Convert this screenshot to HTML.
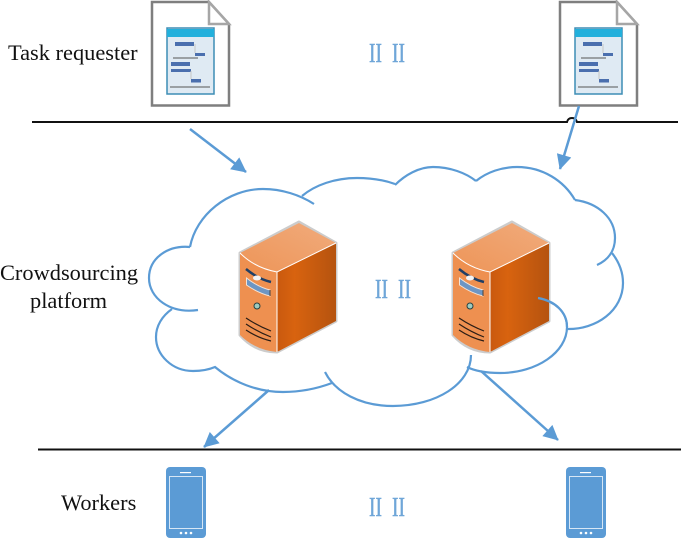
<!DOCTYPE html>
<html><head><meta charset="utf-8"><style>
html,body{margin:0;padding:0;background:#fff}
svg{display:block}
text{font-family:"Liberation Serif",serif}
.l{font-size:22.400px;fill:#111}
.b{font-size:27px;fill:#6fa6d8;stroke:#6fa6d8;stroke-width:.4px}
</style></head><body>
<svg width="685" height="547" viewBox="0 0 685 547" xmlns="http://www.w3.org/2000/svg">
<defs>
<linearGradient id="side" x1="0" x2="1" y1="0" y2="0"><stop offset="0" stop-color="#c9590f"/><stop offset=".3" stop-color="#d8630f"/><stop offset="1" stop-color="#b5530f"/></linearGradient>
<linearGradient id="top" x1="0" x2="1" y1="1" y2="0"><stop offset="0" stop-color="#ee9558"/><stop offset="1" stop-color="#f0ab7c"/></linearGradient>
<marker id="a" viewBox="0 0 10 10" refX="9.500" refY="5" markerWidth="6.400" markerHeight="6" orient="auto"><path d="M0 0L10 5L0 10Z" fill="#5b9bd5"/></marker>
<g id="doc">
<path d="M152 2H209L229 24V105.500H152Z" fill="#fff" stroke="#7f7f7f" stroke-width="2.500"/>
<path d="M209 2V24H229Z" fill="#fff" stroke="#a6a6a6" stroke-width="2.500"/>
<rect x="167" y="28" width="47" height="66" fill="#dfeaf3" stroke="#3d8db5" stroke-width="1.500"/>
<rect x="167" y="29" width="47" height="8" fill="#22b0dc"/>
<g fill="#4a6fae"><rect x="175" y="42" width="19" height="4"/><rect x="195" y="53" width="10" height="3"/><rect x="171" y="62" width="19" height="4"/><rect x="171" y="69" width="20" height="3"/><rect x="191" y="79" width="10" height="3.500"/></g>
<path d="M173 58H198M170 87H210" stroke="#555" stroke-width="1" fill="none"/>
<path d="M195 44V53M191 71V79" stroke="#c5c5c5" stroke-width="1" fill="none"/>
</g>
<g id="srv">
<path d="M299 222L336 243V321L277 352Q255 352 240 335V253Z" fill="#ccc" stroke="#ccc" stroke-width="3" stroke-linejoin="round"/>
<path d="M299 223L336 243L277 272Q255 268 240 253Z" fill="url(#top)"/>
<path d="M277 272L336 243V321L277 352Z" fill="url(#side)"/>
<path d="M240 253Q255 268 277 272V352Q255 350 240 335Z" fill="#ee9050"/>
<path d="M240 253Q255 268 277 272L336 243M277 272V352" fill="none" stroke="#fff" stroke-width="1"/>
<path d="M246 269Q258 279 271 282" fill="none" stroke="#1f3f66" stroke-width="2.500"/>
<ellipse cx="257" cy="278" rx="4" ry="2.500" fill="#f3f3f3"/>
<path d="M246.500 278Q258 287 270 290V296Q258 293 246.500 285Z" fill="#6d96c4" stroke="#f4e3d6" stroke-width="1"/>
<path d="M270 290V296" stroke="#444" stroke-width="1"/>
<circle cx="257" cy="306" r="3" fill="#9dcbc0" stroke="#27413f" stroke-width="1"/>
<path d="M246 318Q258 326 271 331M246 324Q258 332 271 337M246 330Q258 338 271 341" fill="none" stroke="#2b1d15" stroke-width="1.200"/>
</g>
<g id="ph">
<rect x="166" y="467" width="40" height="71" rx="4" fill="#5b9bd5"/>
<rect x="169.500" y="476.500" width="33" height="52" fill="none" stroke="#d6e6f5" stroke-width="1"/>
<rect x="180" y="472" width="11" height="1.200" fill="#fff"/>
<circle cx="181" cy="533" r="1.300" fill="#fff"/><circle cx="186" cy="533" r="1.300" fill="#fff"/><circle cx="191" cy="533" r="1.300" fill="#fff"/>
</g>
</defs>

<use href="#doc"/>
<use href="#doc" x="408"/>

<path d="M32 122H567Q568 118 572 118Q576 118 577 122H678" fill="none" stroke="#111" stroke-width="2"/>
<path d="M38 449.500H681" fill="none" stroke="#111" stroke-width="2"/>

<g fill="none" stroke="#5b9bd5" stroke-width="2.200">
<path d="M190 247C196 215 228 189 263 189C282 189 300 195 314 204"/>
<path d="M302 196C315 185 335 178 357 178C371 178 384 180 395 184"/>
<path d="M395 185C405 175 419 167 433 167C450 167 466 173 476 181"/>
<path d="M476 181C487 172 502 167 517 167C543 167 564 181 575 200"/>
<path d="M575 200C598 203 615 218 615 238C615 251 608 260 597 265"/>
<path d="M612 253C619 262 623 272 623 283C623 310 597 330 566 329"/>
<path d="M538 298C555 301 567 312 567 327C567 352 537 373 500 373C487 373 475 371 467 367"/>
<path d="M471 355C471 384 436 406 393 406C360 406 335 392 325 372"/>
<path d="M332 383C316 389 300 392 283 392C257 392 233 382 215 367C208 370 200 371 193 371C172 371 156 355 156 337C156 326 162 316 172 309"/>
<path d="M198 310C170 314 149 298 149 278C149 258 168 245 190 247"/>
</g>
<use href="#srv"/>
<use href="#srv" x="213"/>
<path d="M538 298C555 301 567 312 567 327" fill="none" stroke="#5b9bd5" stroke-width="2.200"/>

<g stroke="#5b9bd5" stroke-width="2.500" fill="none" marker-end="url(#a)">
<path d="M190 129L246 172"/>
<path d="M579 106L560 169"/>
<path d="M269 390L204 447"/>
<path d="M481 371L558 440"/>
</g>

<use href="#ph"/>
<use href="#ph" x="400"/>

<text class="l" x="8" y="60">Task requester</text>
<text class="l" x="0" y="280">Crowdsourcing</text>
<text class="l" x="30" y="308">platform</text>
<text class="l" x="61" y="510">Workers</text>
<text class="b" transform="translate(369,62) scale(.72,1)">II</text><text class="b" transform="translate(392,62) scale(.72,1)">II</text>
<text class="b" transform="translate(375,298) scale(.72,1)">II</text><text class="b" transform="translate(398,298) scale(.72,1)">II</text>
<text class="b" transform="translate(369,516) scale(.72,1)">II</text><text class="b" transform="translate(392,516) scale(.72,1)">II</text>
</svg>
</body></html>
